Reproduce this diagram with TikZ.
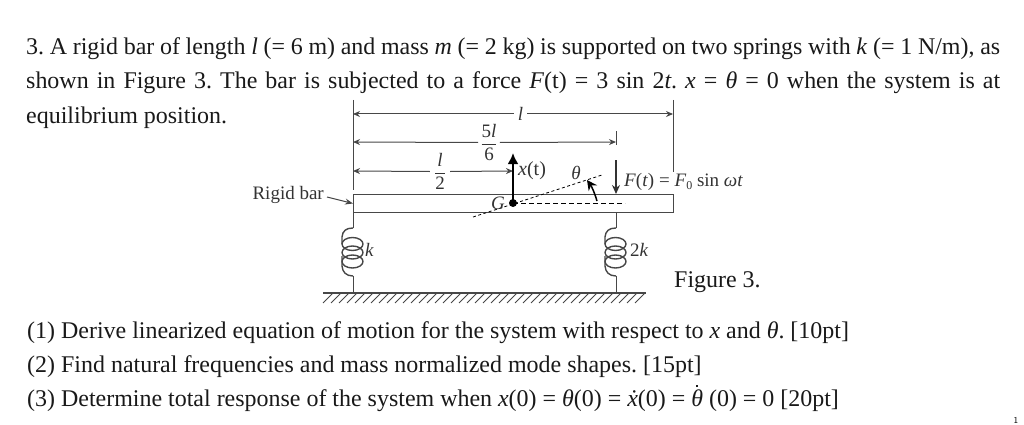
\documentclass[tikz,border=0pt]{standalone}
\usepackage{fontspec}
\setmainfont{Liberation Serif}
\usetikzlibrary{arrows.meta}
\newcommand{\bodyfont}{\frenchspacing\fontsize{23.95}{26}\selectfont}
\newcommand{\figfont}{\fontsize{19}{22}\selectfont}
\newcommand{\fracfont}{\fontsize{19}{22}\selectfont}
\tikzset{
 x=1pt,y=-1pt,
 bodyline/.style={anchor=base west,inner sep=0pt,font=\bodyfont,text=black!90},
 figlabel/.style={inner sep=0pt,font=\figfont,text=black!80},
 fraclabel/.style={inner sep=0pt,font=\fracfont,text=black!80},
 fig/.style={draw=black!72,line width=1pt},
 dimen/.style={fig,-{Stealth[length=7pt,width=6pt]}},
 dash1/.style={draw=black,line width=0.9pt,dash pattern=on 5pt off 3pt},
 dash2/.style={draw=black,line width=0.8pt,dash pattern=on 3pt off 2.5pt},
 coil/.pic={
  \draw[draw=black!72,line width=1.4pt]
   (0,16) .. controls (-7,16) and (-10.5,19) .. (-11,25) -- (-11,32);
  \draw[draw=black!72,line width=1.4pt]
   (-11,44) -- (-11,54) .. controls (-10.5,60) and (-7,64) .. (0,64);
  \draw[draw=black!72,line width=1.4pt] (-0.5,32) ellipse [x radius=10.5,y radius=6.5];
  \draw[draw=black!72,line width=1.4pt] (-0.5,40.5) ellipse [x radius=10.5,y radius=6.5];
  \draw[draw=black!72,line width=1.4pt] (-0.5,49.5) ellipse [x radius=10.5,y radius=6.5];
 }
}
\begin{document}
\begin{tikzpicture}
\useasboundingbox (0,0) rectangle (1024,425);
% body text
\node[bodyline] (t1) at (26,55) {\hbox to 974pt{3. A rigid bar of length \textit{l} (= 6 m) and mass \textit{m} (= 2 kg) is supported on two springs with \textit{k} (= 1 N/m), as}};
\node[bodyline] (t2) at (26,89) {\hbox to 974pt{shown in Figure 3. The bar is subjected to a force \textit{F}(t) = 3 sin 2\textit{t}. \textit{x} = \textit{θ} = 0 when the system is at}};
\node[bodyline] (t3) at (26,123) {equilibrium position.};
\node[bodyline] (fig) at (674,287) {Figure 3.};
\node[bodyline] (q1) at (27,338) {(1) Derive linearized equation of motion for the system with respect to \textit{x} and \textit{θ}. [10pt]};
\node[bodyline] (q2) at (27,372) {(2) Find natural frequencies and mass normalized mode shapes. [15pt]};
\node[bodyline] (q3) at (27,406) {(3) Determine total response of the system when \textit{x}(0) = \textit{θ}(0) = \textit{\.{x}}(0) = \rlap{\smash{\kern5pt\raisebox{19pt}{\rule{2pt}{2pt}}}}\textit{θ} (0) = 0 [20pt]};
\node[inner sep=0pt,font=\sffamily\fontsize{9}{10}\selectfont] (pg) at (1016,420) {1};
% coordinates
\coordinate (L0) at (353,100); \coordinate (L1) at (353,190);
\coordinate (R0) at (673,100); \coordinate (R1) at (673,172);
\coordinate (A) at (353,114); \coordinate (B) at (353,142); \coordinate (C) at (353,171);
\coordinate (Ae) at (673,114); \coordinate (Be) at (616,142); \coordinate (Ce) at (513,171);
\coordinate (G) at (513,203);
\coordinate (xtip) at (513,153);
\coordinate (F0) at (616,160); \coordinate (F1) at (616,194);
\coordinate (T0) at (616,131); \coordinate (T1) at (616,145);
\coordinate (gl) at (323,293); \coordinate (gr) at (646,293);
\coordinate (sl) at (353,212); \coordinate (sr) at (616,212);
\coordinate (glk) at (353,293); \coordinate (grk) at (616,293);
% extension lines
\draw[fig] (L0) -- (L1);
\draw[fig] (R0) -- (R1);
\draw[fig] (T0) -- (T1);
% dim labels
\node[figlabel] (lbl) at (520.5,114) {\textit{l}};
\node[fraclabel] (lbl56) at (489,142.5) {$\displaystyle\frac{\mbox{5\textit{l}}}{\mbox{6}}$};
\node[fraclabel] (lbl2) at (440,171.5) {$\displaystyle\frac{\mbox{\textit{l}}}{\mbox{2}}$};
% dimension lines
\draw[dimen] (lbl.west) ++(-4,0) -- (A);
\draw[dimen] (lbl.east) ++(4,0) -- (Ae);
\draw[dimen] (lbl56.west) ++(-2,0) -- (B);
\draw[dimen] (lbl56.east) ++(2,0) -- (Be);
\draw[dimen] (lbl2.west) ++(-4,0) -- (C);
\draw[dimen] (lbl2.east) ++(4,0) -- (Ce);
% bar
\node[draw=black!72,line width=1pt,minimum width=320pt,minimum height=18pt,inner sep=0pt,anchor=north west] (bar) at (353,194) {};
% dashed
\draw[dash1] (G) -- (625,203);
\draw[dash2] (473,217) -- (602,175);
% ground
\draw[fig,line width=1.2pt] (gl) -- (gr);
\foreach \h in {333,341,...,646}{\draw[draw=black!72,line width=0.9pt] (\h,293) -- ++(-10,10);}
% springs
\draw[fig] (sl) -- ++(0,16);
\draw[fig] (353,276) -- (glk);
\draw[fig] (sr) -- ++(0,16);
\draw[fig] (616,276) -- (grk);
\pic at (353,212) {coil};
\pic at (616,212) {coil};
% force arrows
\draw[draw=black!80,line width=1.5pt,-{Stealth[length=9pt,width=8pt]}] (F0) -- (F1);
\draw[draw=black,line width=2.2pt,-{Latex[length=11pt,width=11pt]}] (G) -- (xtip);
\fill[black] (G) circle (4pt);
\draw[draw=black,line width=1.5pt,-{Stealth[length=10pt,width=10pt]}] (597,201) .. controls (595,194) and (592,187) .. (587,180);
% labels
\node[figlabel,anchor=west] (xt) at (518,171) {\fontsize{20}{22}\selectfont\textit{x}(t)};
\node[figlabel] (theta) at (576,173) {\textit{θ}};
\node[figlabel,anchor=west] (Ft) at (624,182) {\textit{F}(\textit{t}) = \textit{F}\raisebox{-3pt}{\fontsize{12}{12}\selectfont 0} sin \textit{ωt}};
\node[figlabel] (Glab) at (498,203) {\textit{G}};
\node[figlabel,anchor=west] (kl) at (365,250) {\textit{k}};
\node[figlabel,anchor=west] (kr) at (630,250) {2\textit{k}};
\node[figlabel,anchor=east] (rb) at (324,195) {Rigid bar};
\draw[draw=black!72,line width=1pt,-{Stealth[length=8pt,width=6pt]}] (327,197) -- (bar.west);
\end{tikzpicture}
\end{document}
